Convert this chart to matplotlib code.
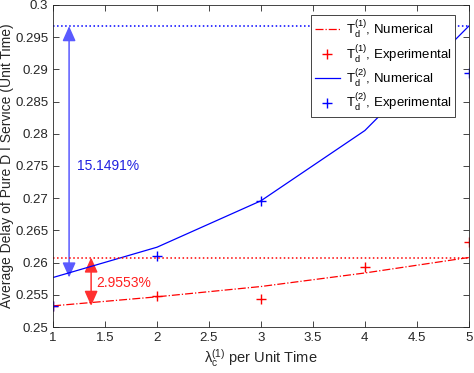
import numpy as np
import matplotlib.pyplot as plt
from matplotlib.patches import FancyArrowPatch

plt.rcParams['font.family'] = ['Liberation Sans', 'DejaVu Sans']
plt.rcParams['mathtext.fontset'] = 'custom'
plt.rcParams['mathtext.rm'] = 'Liberation Sans'
plt.rcParams['mathtext.it'] = 'Liberation Sans:italic'

# data
lam = [1, 2, 3, 4, 5]
t1_num = [0.2533, 0.2547, 0.2563, 0.2584, 0.2608]
t1_exp = [0.2533, 0.2548, 0.2544, 0.2593, 0.2632]
t2_num = [0.2577, 0.2624, 0.2696, 0.2805, 0.2967]
t2_exp = [0.2533, 0.2611, 0.2696, np.nan, 0.2895]

gap1 = '2.9553%'
gap2 = '15.1491%'

fig = plt.figure(figsize=(4.74, 3.73), dpi=100)
ax = fig.add_axes([0.112, 0.123, 0.877, 0.864])

ax.plot(lam, t1_num, color='red', linestyle='-.', linewidth=0.9,
        label=r'T$_\mathregular{d}^{(1)}$, Numerical')
ax.plot(lam, t1_exp, color='red', linestyle='none', marker='+', markersize=7,
        markeredgewidth=1.0, label=r'T$_\mathregular{d}^{(1)}$, Experimental')
ax.plot(lam, t2_num, color='blue', linestyle='-', linewidth=0.9,
        label=r'T$_\mathregular{d}^{(2)}$, Numerical')
ax.plot(lam, t2_exp, color='blue', linestyle='none', marker='+', markersize=7,
        markeredgewidth=1.0, label=r'T$_\mathregular{d}^{(2)}$, Experimental')

# reference levels
ax.plot([lam[0], lam[-1]], [t1_num[-1], t1_num[-1]], color='red',
        linestyle=':', linewidth=1.1)
ax.plot([lam[0], lam[-1]], [t2_num[-1], t2_num[-1]], color='blue',
        linestyle=':', linewidth=1.1)

# gap arrows
a2 = FancyArrowPatch((1.154, t2_num[0]), (1.154, t2_num[-1]),
                     arrowstyle='<|-|>,head_length=9,head_width=4',
                     color='#5a5aff', linewidth=1.1, shrinkA=0, shrinkB=0)
ax.add_patch(a2)
a1 = FancyArrowPatch((1.366, t1_num[0]), (1.366, t1_num[-1]),
                     arrowstyle='<|-|>,head_length=9,head_width=4',
                     color='#ff3030', linewidth=1.1, shrinkA=0, shrinkB=0)
ax.add_patch(a1)
ax.text(1.23, 0.275, gap2, color='#2020e0', fontsize=10, va='center')
ax.text(1.42, 0.2569, gap1, color='#ff2020', fontsize=10, va='center')

ax.set_xlim(1, 5)
ax.set_ylim(0.25, 0.3)
ax.set_xticks(np.arange(1, 5.01, 0.5))
ax.set_xticklabels(['1', '1.5', '2', '2.5', '3', '3.5', '4', '4.5', '5'])
ax.set_yticks(np.arange(0.25, 0.3001, 0.005))
ax.set_yticklabels(['0.25', '0.255', '0.26', '0.265', '0.27', '0.275',
                    '0.28', '0.285', '0.29', '0.295', '0.3'])
ax.tick_params(direction='in', top=True, right=True, labelsize=9.5,
               colors='#262626', length=4, width=0.6)
for s in ax.spines.values():
    s.set_linewidth(0.6)
    s.set_color('#262626')

ax.set_xlabel(r'$\mathregular{λ_c^{(1)}}$ per Unit Time', fontsize=10.5,
              color='#262626', labelpad=2)
ax.set_ylabel('Average Delay of Pure D I Service (Unit Time)', fontsize=10,
              color='#262626', labelpad=1)

leg = ax.legend(loc='upper right', bbox_to_anchor=(0.968, 0.968), fontsize=9.5,
                fancybox=False, framealpha=1, edgecolor='#262626',
                handlelength=1.9, handletextpad=0.5, borderpad=0.25,
                labelspacing=0.2, borderaxespad=0)
leg.get_frame().set_linewidth(0.6)

fig.savefig('out.png', dpi=100)
